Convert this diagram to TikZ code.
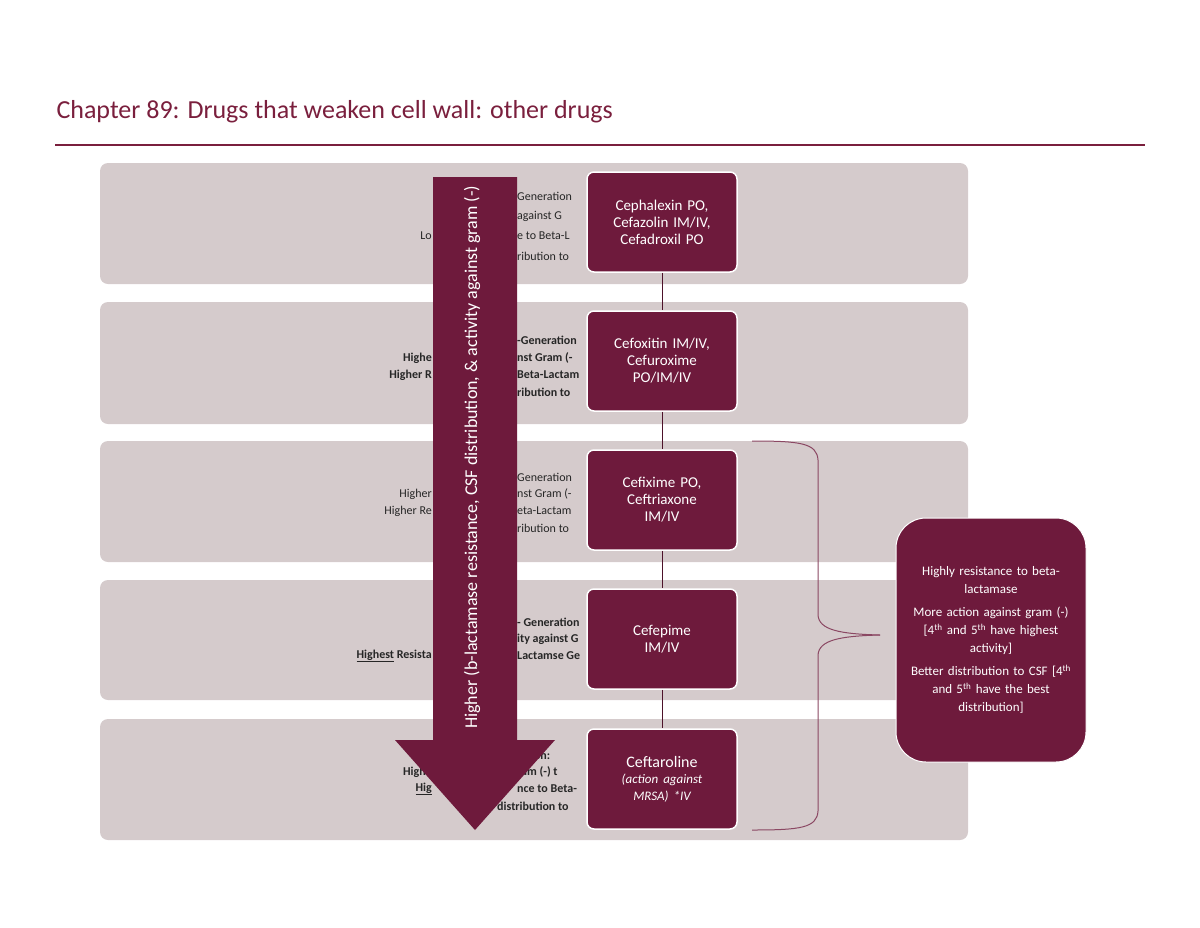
\documentclass[tikz,border=0pt]{standalone}
\usepackage{fontspec}
\setmainfont{Carlito}
\usetikzlibrary{calc}
\definecolor{wine}{HTML}{6E1A3C}
\definecolor{band}{HTML}{D5CBCC}
\definecolor{ttl}{HTML}{7A1F3D}
\begin{document}
\begin{tikzpicture}[x=1pt,y=-1pt,
  bandbox/.style={fill=band,draw=none,rounded corners=8},
  drug/.style={fill=wine,draw=white,line width=1.5pt,rounded corners=7,minimum width=150,minimum height=100,text width=140,align=center,text=white,font=\fontsize{15}{17}\selectfont},
  lt/.style={font=\fontsize{12}{13}\selectfont,text=black!85,inner sep=0},
  conn/.style={draw=wine!70!black,line width=1pt}]
\useasboundingbox (0,0) rectangle (1200,927);
\node[anchor=west,text=ttl,font=\fontsize{26}{30}\selectfont] (title) at (53,112) {Chapter 89: Drugs that weaken cell wall: other drugs};
\draw[ttl,line width=2.5pt] (55,145) -- (1145,145);
\foreach \t/\b in {163/284,302/424,441/562,580/700,719/840}
  \fill[band,rounded corners=8] (100,\t) rectangle (968,\b);
% fragments of row texts
\node[lt,anchor=west] at (517,196) {Generation};
\node[lt,anchor=west] at (517,216) {against G};
\node[lt,anchor=east] at (432,236) {Lo};
\node[lt,anchor=west] at (517,236) {e to Beta-L};
\node[lt,anchor=west] at (517,256) {ribution to};
\node[lt,anchor=west,font=\bfseries\fontsize{12}{13}\selectfont] at (517,340) {-Generation};
\node[lt,anchor=east,font=\bfseries\fontsize{12}{13}\selectfont] at (432,358) {Highe};
\node[lt,anchor=west,font=\bfseries\fontsize{12}{13}\selectfont] at (517,358) {nst Gram (-};
\node[lt,anchor=east,font=\bfseries\fontsize{12}{13}\selectfont] at (432,375) {Higher R};
\node[lt,anchor=west,font=\bfseries\fontsize{12}{13}\selectfont] at (517,375) {Beta-Lactam};
\node[lt,anchor=west,font=\bfseries\fontsize{12}{13}\selectfont] at (517,392) {ribution to};
\node[lt,anchor=west] at (517,477) {Generation};
\node[lt,anchor=east] at (432,494) {Higher};
\node[lt,anchor=west] at (517,494) {nst Gram (-};
\node[lt,anchor=east] at (432,511) {Higher Re};
\node[lt,anchor=west] at (517,511) {eta-Lactam};
\node[lt,anchor=west] at (517,528) {ribution to};
\node[lt,anchor=west,font=\bfseries\fontsize{12}{13}\selectfont] at (517,622) {- Generation};
\node[lt,anchor=west,font=\bfseries\fontsize{12}{13}\selectfont] at (517,639) {ity against G};
\node[lt,anchor=east,font=\bfseries\fontsize{12}{13}\selectfont] at (432,656) {\underline{Highest} Resista};
\node[lt,anchor=west,font=\bfseries\fontsize{12}{13}\selectfont] at (517,656) {Lactamse Ge};
\node[lt,anchor=west,font=\bfseries\fontsize{12}{13}\selectfont] at (517,755) {ration:};
\node[lt,anchor=east,font=\bfseries\fontsize{12}{13}\selectfont] at (432,772) {Highe};
\node[lt,anchor=west,font=\bfseries\fontsize{12}{13}\selectfont] at (517,772) {ram (-) t};
\node[lt,anchor=east,font=\bfseries\fontsize{12}{13}\selectfont] at (432,789) {\underline{Hig}};
\node[lt,anchor=west,font=\bfseries\fontsize{12}{13}\selectfont] at (517,789) {nce to Beta-};
\node[lt,anchor=west,font=\bfseries\fontsize{12}{13}\selectfont] at (497,806) {distribution to};
% arrow
\path[fill=wine] (433,177) -- (517,177) -- (517,740) -- (555,740) -- (475,830) -- (395,740) -- (433,740) -- cycle;
\begin{scope}
\clip (433,177) -- (517,177) -- (517,740) -- (555,740) -- (475,830) -- (395,740) -- (433,740) -- cycle;
\node[rotate=90,anchor=east,text=white,font=\fontsize{18}{20}\selectfont] (arrowtext) at (472,182) {Higher (b-lactamase resistance, CSF distribution, \& activity against gram (-)};
\end{scope}
% drug boxes
\node[drug] (d1) at (662,222) {Cephalexin PO,\\ Cefazolin IM/IV,\\ Cefadroxil PO};
\node[drug] (d2) at (662,361) {Cefoxitin IM/IV,\\ Cefuroxime\\ PO/IM/IV};
\node[drug] (d3) at (662,500) {Cefixime PO,\\ Ceftriaxone\\ IM/IV};
\node[drug] (d4) at (662,639) {Cefepime\\ IM/IV};
\node[drug] (d5) at (662,779) {{\fontsize{16}{18}\selectfont Ceftaroline}\\[1pt] {\itshape\fontsize{13}{15}\selectfont (action against\\ MRSA) *IV}};
\draw[conn] (d1) -- (d2);
\draw[conn] (d2) -- (d3);
\draw[conn] (d3) -- (d4);
\draw[conn] (d4) -- (d5);
% brace
\coordinate (btip) at (880,635);
\draw[wine!80,line width=1pt] (752,441) .. controls (800,441) and (817,443) .. (818,460) -- (818,615) .. controls (819,630) and (840,634) .. (btip);
\draw[wine!80,line width=1pt] (752,830) .. controls (800,830) and (817,828) .. (818,811) -- (818,655) .. controls (819,640) and (840,636) .. (btip);
\node[fill=wine,draw=white,line width=1pt,rounded corners=30,minimum width=190,minimum height=244,text width=170,align=center,text=white,font=\fontsize{13}{18}\selectfont] (note) at (991,640)
{Highly resistance to beta-\\lactamase\\[5pt]
More action against gram (-)\\ {[4\textsuperscript{th} and 5\textsuperscript{th} have highest}\\ activity]\\[5pt]
Better distribution to CSF [4\textsuperscript{th}\\ and 5\textsuperscript{th} have the best\\ distribution]};
\end{tikzpicture}
\end{document}
